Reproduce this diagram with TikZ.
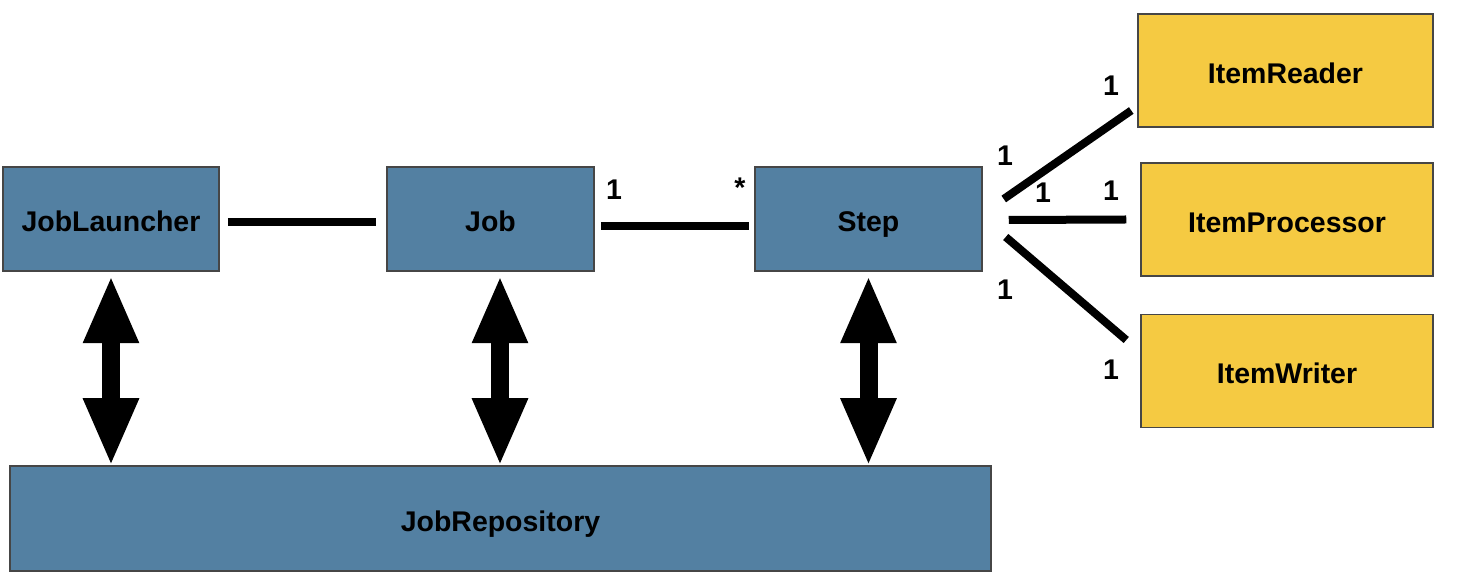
\documentclass[tikz,border=0pt]{standalone}
\usepackage{fontspec}
\setmainfont{Liberation Sans}
\usepackage{xcolor}
\usepackage{tikz}
\usetikzlibrary{positioning,arrows.meta}

\definecolor{boxblue}{RGB}{83,128,162}
\definecolor{boxyellow}{RGB}{245,202,66}
\definecolor{boxline}{RGB}{70,70,70}

\begin{document}
\begin{tikzpicture}[x=0.1mm, y=-0.1mm,
	every node/.style={font=\fontsize{8.1pt}{10pt}\selectfont\bfseries},
	bluebox/.style={draw=boxline, line width=0.15mm, fill=boxblue, minimum height=10.4mm, inner sep=0pt, text height=2.8mm, text depth=0.2mm},
	yellowbox/.style={draw=boxline, line width=0.15mm, fill=boxyellow, minimum height=11.3mm, inner sep=0pt, text height=2.8mm, text depth=0.2mm},
	link/.style={line width=0.8mm},
	updown/.style={line width=1.8mm, {Triangle[width=5.1mm,length=6.8mm]}-{Triangle[width=5.1mm,length=6.8mm]}, shorten <=0.35mm, shorten >=-0.1mm}]
	\useasboundingbox (0,0) rectangle (1470,586);

	\node[bluebox, minimum width=21.6mm] (jl) at (111,219) {JobLauncher};
	\node[bluebox, minimum width=20.7mm] (job) at (490.5,219) {Job};
	\node[bluebox, minimum width=22.7mm] (step) at (868.5,219) {Step};
	\node[bluebox, minimum width=98.1mm, minimum height=10.5mm] (repo) at (500.5,518.5) {JobRepository};

	\node[yellowbox, minimum width=29.5mm] (rd) at (1285.5,70.5) {ItemReader};
	\node[yellowbox, minimum width=29.2mm] (pr) at (1287,219.5) {ItemProcessor};
	\node[yellowbox, minimum width=29.2mm] (wr) at (1287,371) {ItemWriter};

	% launcher - job - step
	\draw[link, shorten <=0.8mm, shorten >=1mm] ([yshift=-0.3mm]jl.east) -- ([yshift=-0.3mm]job.west);
	\draw[link, shorten <=0.6mm, shorten >=0.5mm] ([yshift=-0.7mm]job.east) -- ([yshift=-0.7mm]step.west);
	\node (jobone) at (614,190) {1};
	\node (stepmany) at (740,188) {*};

	% step - items
	\draw[link] ([shift={(2.1mm,2mm)}]step.east) -- ([shift={(-0.6mm,-4mm)}]rd.west);
	\draw[link] ([shift={(2.6mm,-0.1mm)}]step.east) -- ([xshift=-1.4mm]pr.west);
	\draw[link] ([shift={(2.3mm,-1.8mm)}]step.east) -- ([shift={(-1.4mm,3.1mm)}]wr.west);
	\node (rdone) at (1111,86) {1};
	\node (srdone) at (1005,156) {1};
	\node (sprone) at (1043,193) {1};
	\node (prone) at (1111,191) {1};
	\node (swrone) at (1005,290) {1};
	\node (wrone) at (1111,370) {1};

	% repository
	\draw[updown] (jl.south) -- (jl.south |- repo.north);
	\draw[updown] ([xshift=0.95mm]job.south) -- ([xshift=0.95mm]job.south |- repo.north);
	\draw[updown] (step.south) -- (step.south |- repo.north);
\end{tikzpicture}
\end{document}
